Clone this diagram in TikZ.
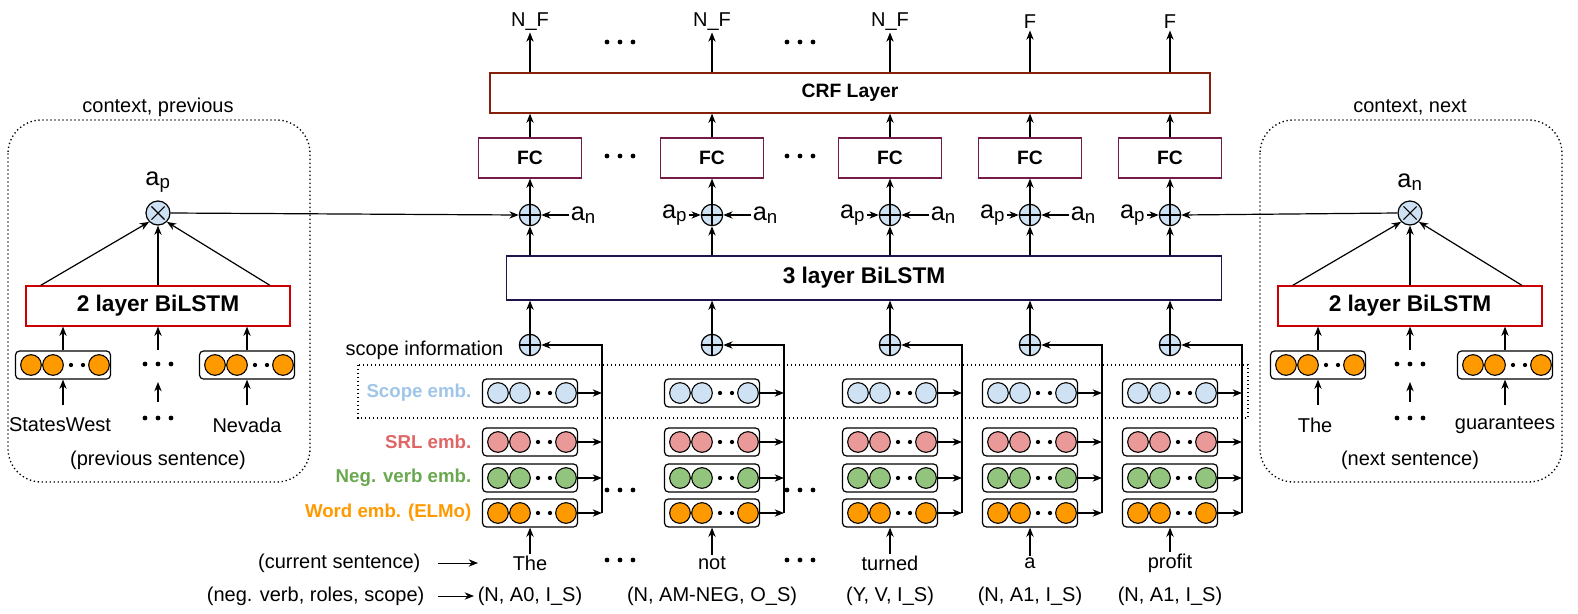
\documentclass[tikz,border=0pt]{standalone}
\usepackage{fontspec}
\setmainfont{Liberation Sans}
\usetikzlibrary{arrows.meta}
\definecolor{cblue}{HTML}{CFE2F3}
\definecolor{cpink}{HTML}{EA9999}
\definecolor{cgreen}{HTML}{93C47D}
\definecolor{corange}{HTML}{FF9900}
\definecolor{tblue}{HTML}{9FC5E8}
\definecolor{tred}{HTML}{E06666}
\definecolor{tgreen}{HTML}{6AA84F}
\definecolor{crfc}{HTML}{85200C}
\definecolor{fcc}{HTML}{741B47}
\definecolor{lstmc}{HTML}{20124D}
\definecolor{lstm2c}{HTML}{CC0000}
\tikzset{
  arr/.style={-{Stealth[length=7pt,width=5.5pt]},line width=0.9pt},
  txt/.style={font=\fontsize{15}{17}\selectfont,inner sep=1pt},
  btxt/.style={font=\bfseries\fontsize{14}{16}\selectfont},
  box/.style={draw,line width=0.9pt,minimum height=30,font=\bfseries\fontsize{14.5}{16}\selectfont},
  bigbox/.style={draw,line width=0.9pt,font=\bfseries\fontsize{17}{19}\selectfont},
  ebox/.style={draw,rounded corners=3pt,line width=0.9pt,minimum width=71.25,minimum height=21},
  dot/.style={circle,draw,line width=0.8pt,minimum size=15.5,inner sep=0},
  oplus/.style={circle,draw,line width=0.9pt,fill=cblue,minimum size=16,inner sep=0,
    path picture={\draw[line width=0.8pt] (path picture bounding box.north)--(path picture bounding box.south)
      (path picture bounding box.east)--(path picture bounding box.west);}},
  otimes/.style={circle,draw,line width=0.9pt,fill=cblue,minimum size=18,inner sep=0,
    path picture={\draw[line width=0.8pt] ([shift={(45:7pt)}]path picture bounding box.center)--([shift={(225:7pt)}]path picture bounding box.center)
      ([shift={(135:7pt)}]path picture bounding box.center)--([shift={(315:7pt)}]path picture bounding box.center);}},
  alab/.style={font=\fontsize{19}{19}\selectfont,inner sep=1pt},
  ctx/.style={draw,dotted,line width=1pt,rounded corners=25pt},
}
\newcommand{\emb}[4]{% name, x, y, fill
  \node[ebox] (#1) at (#2,#3) {};
  \node[dot,fill=#4] (#1a) at (#2-32,#3) {};
  \node[dot,fill=#4] (#1b) at (#2-10,#3) {};
  \node[dot,fill=#4] (#1c) at (#2+36,#3) {};
  \fill (#2+8,#3) circle (1.6pt) (#2+20,#3) circle (1.6pt);
}
\newcommand{\mydots}[2]{\fill (#1-13,#2) circle (1.8pt) (#1,#2) circle (1.8pt) (#1+13,#2) circle (1.8pt);}
\begin{document}
\begin{tikzpicture}[x=0.75pt,y=-0.75pt]
\useasboundingbox (0,0) rectangle (1578,614);
\node[box,draw=crfc,minimum width=540,minimum height=30] (crf) at (850,93) {CRF Layer};
\node[bigbox,draw=lstmc,minimum width=536,minimum height=33] (lstm) at (864,278) {3 layer BiLSTM};
\draw[dotted,line width=1pt] (358,365) rectangle (1248,418);
\node[txt,anchor=east] (scinfo) at (505,350) {scope information};
\foreach \i/\c/\o/\w/\t in {1/530/N\_F/The/{(N, A0, I\_S)},2/712/N\_F/not/{(N, AM-NEG, O\_S)},3/890/N\_F/turned/{(Y, V, I\_S)},4/1030/F/a/{(N, A1, I\_S)},5/1170/F/profit/{(N, A1, I\_S)}}{
  \node[txt] (o\i) at (\c,22) {\o};
  \node[box,draw=fcc,minimum width=77] (f\i) at (\c,158) {FC};
  \node[oplus] (p\i) at (\c,215) {};
  \node[oplus] (s\i) at (\c,345) {};
  \emb{es\i}{\c}{393}{cblue}
  \emb{er\i}{\c}{442}{cpink}
  \emb{eg\i}{\c}{478}{cgreen}
  \emb{ew\i}{\c}{513}{corange}
  \node[txt] (w\i) at (\c,563) {\w};
  \node[txt] (t\i) at (\c,596) {\t};
  \coordinate (vb\i) at (\c+72,513);
  \coordinate (vt\i) at (\c+72,345);
  \draw[arr] (ew\i.east) -- (vb\i);
  \draw[arr] (eg\i.east) -- (\c+72,478);
  \draw[arr] (er\i.east) -- (\c+72,442);
  \draw[arr] (es\i.east) -- (\c+72,393);
  \draw[arr] (vb\i) -- (vt\i) -- (s\i);
  \draw[arr] (w\i.north) -- (ew\i.south);
  \draw[arr] (s\i.north) -- (s\i.north |- lstm.south);
  \draw[arr] (p\i |- lstm.north) -- (p\i.south);
  \draw[arr] (p\i.north) -- (f\i.south);
  \draw[arr] (f\i.north) -- (f\i.north |- crf.south);
  \draw[arr] (o\i.south |- crf.north) -- (o\i.south);
}
\foreach \i in {1,2,3,4}{
  \node[alab,anchor=west] (an\i) at ([xshift=21]p\i.east) {a\textsubscript{\fontsize{14}{14}\selectfont n}};
  \draw[arr] (an\i.west) -- (p\i.east);
}
\foreach \i in {2,3,4,5}{
  \node[alab,anchor=east] (ap\i) at ([xshift=-9]p\i.west) {a\textsubscript{\fontsize{14}{14}\selectfont p}};
  \draw[arr] (ap\i.east) -- (p\i.west);
}
\foreach \x in {620,800}{
  \mydots{\x}{42}
  \mydots{\x}{156}
  \mydots{\x}{490}
  \mydots{\x}{560}
}
\node[btxt,text=tblue,anchor=east] (l1) at (476,393) {Scope emb.};
\node[btxt,text=tred,anchor=east] (l2) at (476,442) {SRL emb.};
\node[btxt,text=tgreen,anchor=east] (l3) at (476,478) {Neg. verb emb.};
\node[btxt,text=corange,anchor=east] (l4) at (476,513) {Word emb. (ELMo)};
\node[txt,anchor=east] (cs) at (422,563) {(current sentence)};
\node[txt,anchor=east] (nv) at (426,596) {(neg. verb, roles, scope)};
\draw[arr,line width=0.7pt] (cs.east)++(16,0) coordinate (cs1) -- ++(40,0) coordinate (cs2);
\draw[arr,line width=0.7pt] (nv.east)++(12,0) coordinate (nv1) -- ++(36,0) coordinate (nv2);
\foreach \s/\cx/\xa/\xb/\tt/\wa/\wb/\ss/\al in {L/158/63/247/{context, previous}/StatesWest/Nevada/{(previous sentence)}/p,R/1410/1318/1505/{context, next}/The/guarantees/{(next sentence)}/n}{
  \draw[ctx] (\cx-150,120) rectangle (\cx+152,482);
  \node[txt] (ct\s) at (\cx,107) {\tt};
  \node[otimes] (x\s) at (\cx,213) {};
  \node[alab] (a\s) at (\cx,182) {a\textsubscript{\fontsize{14}{14}\selectfont \al}};
  \node[bigbox,draw=lstm2c,minimum width=198,minimum height=30] (b\s) at (\cx,306) {2 layer BiLSTM};
  \emb{c\s a}{\xa}{365}{corange}
  \emb{c\s b}{\xb}{365}{corange}
  \mydots{\cx}{364}
  \mydots{\cx}{418}
  \node[txt] (wa\s) at (\xa-3,425) {\wa};
  \node[txt] (wb\s) at (\xb,425) {\wb};
  \node[txt] (ss\s) at (\cx,460) {\ss};
  \draw[arr] (c\s a.north) -- (c\s a.north |- b\s.south);
  \draw[arr] (c\s b.north) -- (c\s b.north |- b\s.south);
  \draw[arr] (\cx,350) -- (b\s.south);
  \draw[arr] (\xa,405) -- (c\s a.south);
  \draw[arr] (\xb,405) -- (c\s b.south);
  \draw[arr] (\cx,402) -- (\cx,382);
  \draw[arr] (b\s.north) -- (x\s.south);
  \draw[arr] ([xshift=-88]b\s.north) -- (x\s.south west);
  \draw[arr] ([xshift=84]b\s.north) -- (x\s.south east);
}
\draw[arr] (xL.east) -- (p1.west);
\draw[arr] (xR.west) -- (p5.east);
\end{tikzpicture}
\end{document}
